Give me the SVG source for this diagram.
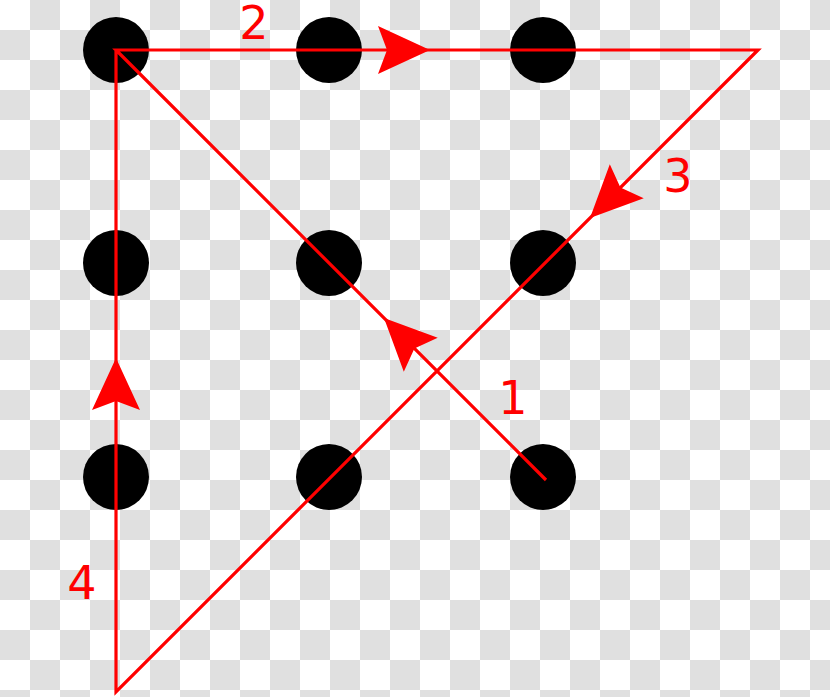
<svg xmlns="http://www.w3.org/2000/svg" width="830" height="697" viewBox="0 0 830 697">
  <defs>
    <pattern id="checker" x="0" y="0" width="60" height="60" patternUnits="userSpaceOnUse">
      <rect x="0" y="0" width="60" height="60" fill="#ffffff"/>
      <rect x="30" y="0" width="30" height="30" fill="#e0e0e0"/>
      <rect x="0" y="30" width="30" height="30" fill="#e0e0e0"/>
    </pattern>
    <path id="arrowhead" d="M0,0 L-52,-24 L-43,0 L-52,24 Z"/>
  </defs>
  <style>
    .dot { fill: #000000; }
    .path { stroke: #ff0000; stroke-width: 3.2; fill: none; stroke-linejoin: miter; }
    .head { fill: #ff0000; }
    .label { font-family: "DejaVu Sans", sans-serif; font-size: 46px; fill: #ff0000; text-anchor: middle; }
  </style>
  <rect x="0" y="0" width="830" height="697" fill="url(#checker)"/>

  <g id="dots">
    <circle id="dot-1-1" class="dot" cx="116" cy="50" r="33"/>
    <circle id="dot-1-2" class="dot" cx="329" cy="50" r="33"/>
    <circle id="dot-1-3" class="dot" cx="543" cy="50" r="33"/>
    <circle id="dot-2-1" class="dot" cx="116" cy="263" r="33"/>
    <circle id="dot-2-2" class="dot" cx="329" cy="263" r="33"/>
    <circle id="dot-2-3" class="dot" cx="543" cy="263" r="33"/>
    <circle id="dot-3-1" class="dot" cx="116" cy="477" r="33"/>
    <circle id="dot-3-2" class="dot" cx="329" cy="477" r="33"/>
    <circle id="dot-3-3" class="dot" cx="543" cy="477" r="33"/>
  </g>

  <g id="connectors">
    <path class="path" d="M546,480 L116,50 L758,50 L116,692 L116,50"/>
    <use href="#arrowhead" class="head" transform="translate(384,318) rotate(-135)"/>
    <use href="#arrowhead" class="head" transform="translate(430,50)"/>
    <use href="#arrowhead" class="head" transform="translate(590,218) rotate(135)"/>
    <use href="#arrowhead" class="head" transform="translate(116,358) rotate(-90)"/>
  </g>

  <g id="labels">
    <text class="label" x="513" y="414">1</text>
    <text class="label" x="254" y="39">2</text>
    <text class="label" x="678" y="192">3</text>
    <text class="label" x="82" y="599">4</text>
  </g>
</svg>
